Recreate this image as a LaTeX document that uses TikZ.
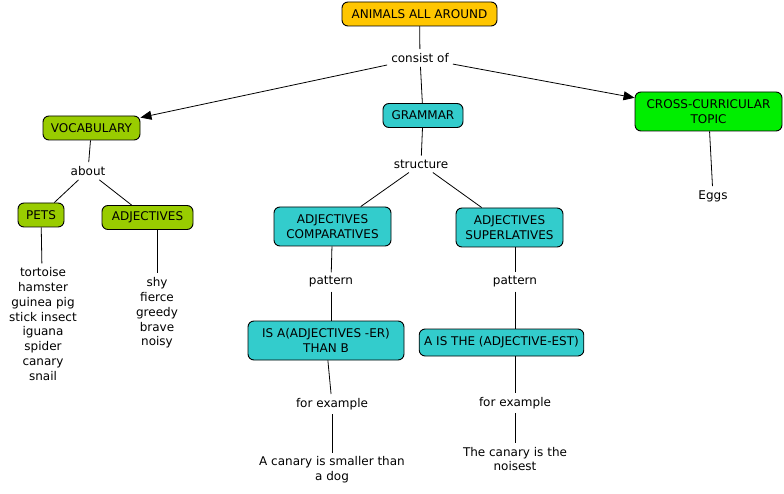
\documentclass[tikz,border=0pt]{standalone}
\usepackage{fontspec}
\setmainfont{DejaVu Sans}
\usetikzlibrary{arrows.meta}

\definecolor{rootgold}{RGB}{255,198,0}
\definecolor{vocabgreen}{RGB}{153,204,0}
\definecolor{gramteal}{RGB}{51,204,204}
\definecolor{topicgreen}{RGB}{0,238,0}

\tikzset{
  concept/.style={draw, rounded corners=6pt, line width=0.9pt, inner xsep=7pt,
    minimum height=24pt, align=center},
  phrase/.style={inner sep=4pt, align=center},
  link/.style={line width=0.8pt},
  linkarrow/.style={link, -{Triangle[length=11pt,width=9pt]}},
}

\begin{document}
\begin{tikzpicture}[x=1pt,y=-1pt,
    every node/.style={font=\fontsize{12}{14.8}\selectfont}]
  \useasboundingbox (0,0) rectangle (784,494);
  % Root concept
  \node[concept, fill=rootgold, minimum width=155pt] (root) at (419.5,14) {ANIMALS ALL AROUND};
  \node[phrase] (consist) at (420,58) {consist of};
  % Main branches
  \node[concept, fill=vocabgreen, minimum width=97pt] (vocab) at (91.5,128) {VOCABULARY};
  \node[concept, fill=gramteal, minimum width=80pt] (grammar) at (423,115.5) {GRAMMAR};
  \node[concept, fill=topicgreen, minimum width=147pt, minimum height=39pt] (topic) at (708.5,111.5) {CROSS-CURRICULAR\\TOPIC};
  \draw[link] (root) -- (consist);
  \draw[linkarrow] (consist) -- (vocab);
  \draw[link] (consist) -- (grammar);
  \draw[linkarrow] (consist) -- (topic);
  % Vocabulary
  \node[phrase] (about) at (88,171) {about};
  \node[concept, fill=vocabgreen, minimum width=46pt] (pets) at (41,215) {PETS};
  \node[concept, fill=vocabgreen, minimum width=91pt] (adjs) at (147.5,217.5) {ADJECTIVES};
  \node[phrase] (petlist) at (43,324) {tortoise\\hamster\\guinea pig\\stick insect\\iguana\\spider\\canary\\snail};
  \node[phrase] (adjlist) at (157,313) {shy\\fierce\\greedy\\brave\\noisy};
  \draw[link] (vocab) -- (about);
  \draw[link] (about) -- (pets);
  \draw[link] (about) -- (adjs);
  \draw[link] (pets) -- (petlist);
  \draw[link] (adjs.south -| adjlist) -- (adjlist);
  % Grammar
  \node[phrase] (structure) at (421,164) {structure};
  \node[concept, fill=gramteal, minimum width=117pt, minimum height=39pt] (comp) at (332.5,226.5) {ADJECTIVES\\COMPARATIVES};
  \node[concept, fill=gramteal, minimum width=107pt, minimum height=39pt] (super) at (509.5,227.5) {ADJECTIVES\\SUPERLATIVES};
  \draw[link] (grammar) -- (structure);
  \draw[link] (structure) -- (comp);
  \draw[link] (structure) -- (super);
  % Comparatives
  \node[phrase] (patcomp) at (331,282) {pattern};
  \node[concept, fill=gramteal, minimum width=156pt, minimum height=39pt] (rulecomp) at (326,340.5) {IS A(ADJECTIVES -ER)\\THAN B};
  \node[phrase] (excomp) at (332,404) {for example};
  \node[phrase] (sentcomp) at (332,470) {A canary is smaller than\\a dog};
  \draw[link] (comp) -- (patcomp);
  \draw[link] (patcomp) -- (patcomp |- rulecomp.north);
  \draw[link] (rulecomp) -- (excomp);
  \draw[link] (excomp) -- (sentcomp);
  % Superlatives
  \node[phrase] (patsuper) at (515,282) {pattern};
  \node[concept, fill=gramteal, inner xsep=5pt, minimum width=153pt, minimum height=27pt] (rulesuper) at (501.5,342.5) {A IS THE (ADJECTIVE-EST)};
  \node[phrase] (exsuper) at (515,403) {for example};
  \node[phrase] (sentsuper) at (515,459) {The canary is the\\noisest};
  \draw[link] (super.south -| patsuper) -- (patsuper);
  \draw[link] (patsuper) -- (patsuper |- rulesuper.north);
  \draw[link] (rulesuper.south -| exsuper) -- (exsuper);
  \draw[link] (exsuper) -- (sentsuper);
  % Cross-curricular topic
  \node[phrase] (eggs) at (713,196) {Eggs};
  \draw[link] (topic) -- (eggs);
\end{tikzpicture}
\end{document}
